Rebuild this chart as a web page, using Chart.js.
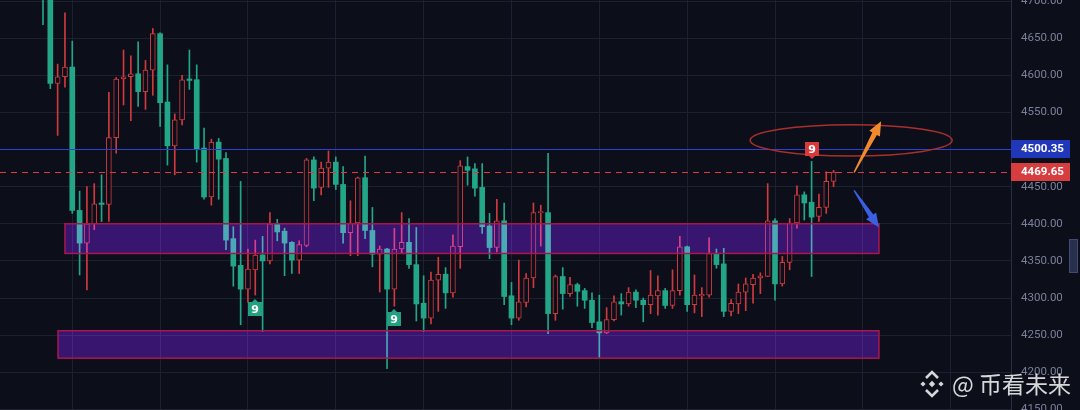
<!DOCTYPE html>
<html>
<head>
<meta charset="utf-8">
<script src="https://cdn.jsdelivr.net/npm/chart.js@4.4.1/dist/chart.umd.min.js"></script>
<style>
  html, body { margin: 0; padding: 0; background: #0c0e1a; }
  #box { width: 1080px; height: 410px; position: relative; }
</style>
</head>
<body>
<div id="box"><canvas id="grafico"></canvas></div>
<script>
// candles (index 0..108)
var opens = [4760,4712,4589,4598,4611,4418,4374,4400,4428,4426,4516,4595,4598,4602,4578,4607,4656,4564,4505,4540,
  4595,4594,4502,4436,4510,4488,4380,4344,4312,4338,4358,4350,4400,4390,4375,4351,4371,4486,4449,4475,
  4483,4453,4388,4401,4462,4391,4359,4366,4312,4366,4375,4345,4293,4273,4324,4332,4307,4369,4477,4474,
  4449,4397,4368,4404,4303,4273,4294,4327,4415,4415,4279,4329,4306,4318,4310,4297,4268,4253,4271,4295,
  4292,4308,4297,4291,4303,4310,4290,4310,4369,4291,4303,4304,4360,4346,4282,4292,4308,4318,4327,4329,
  4404,4319,4348,4401,4439,4429,4410,4422,4457];
var closes = [4720,4589,4598,4611,4418,4374,4400,4427,4426,4516,4595,4598,4602,4578,4607,4656,4563,4505,4540,4594,
  4593,4501,4436,4510,4487,4378,4343,4312,4339,4358,4350,4400,4389,4374,4351,4372,4486,4448,4475,4483,
  4453,4388,4401,4462,4391,4359,4366,4312,4366,4375,4345,4292,4273,4324,4332,4307,4370,4478,4472,4448,
  4396,4368,4404,4302,4273,4295,4327,4415,4416,4279,4329,4306,4318,4309,4297,4267,4253,4271,4295,4292,
  4308,4297,4291,4304,4310,4290,4310,4369,4291,4304,4305,4360,4345,4282,4293,4308,4319,4327,4330,4404,
  4319,4348,4401,4439,4428,4409,4422,4457,4469.65];
var highs = [4780,4720,4615,4684,4646,4444,4450,4454,4466,4577,4597,4634,4626,4645,4620,4663,4657,4614,4548,4600,
  4634,4614,4529,4514,4515,4496,4396,4457,4366,4378,4383,4415,4406,4394,4376,4377,4488,4490,4483,4498,
  4490,4477,4431,4463,4491,4422,4370,4367,4394,4415,4407,4395,4330,4335,4355,4341,4385,4485,4490,4481,
  4481,4414,4433,4428,4321,4351,4333,4428,4425,4495,4331,4341,4328,4320,4313,4307,4304,4287,4303,4306,
  4314,4311,4300,4337,4330,4313,4338,4383,4370,4331,4314,4381,4366,4367,4298,4319,4327,4332,4334,4454,
  4407,4356,4407,4451,4443,4484,4440,4470,4472];
var lows = [4668,4582,4519,4584,4414,4331,4311,4392,4403,4403,4495,4560,4539,4558,4554,4573,4531,4479,4466,4533,
  4581,4483,4433,4425,4433,4365,4316,4264,4294,4304,4255,4346,4377,4330,4333,4333,4369,4431,4439,4449,
  4446,4374,4357,4357,4380,4342,4308,4205,4289,4360,4340,4269,4255,4265,4282,4286,4301,4340,4452,4437,
  4387,4353,4362,4291,4264,4270,4288,4314,4370,4252,4270,4285,4302,4289,4286,4260,4220,4252,4269,4277,
  4289,4287,4268,4279,4277,4286,4286,4304,4282,4280,4275,4301,4340,4275,4276,4279,4283,4293,4306,4329,
  4297,4316,4338,4394,4405,4329,4403,4414,4450];

var priceTicks = [4150, 4200, 4250, 4300, 4350, 4400, 4450, 4500, 4550, 4600, 4650, 4700];
var timeTicks = [4, 16, 28, 40, 52, 64, 76, 88, 100, 112, 124];

var blueLevel = 4500.35;
var lastPrice = 4469.65;

// support zones: [from index, to index, low price, high price]
var zones = [[3.0, 114.2, 4360, 4400], [2.05, 114.2, 4219, 4256]];
// "9" markers: [index, price, kind]
var marks = [[29, 4285, 'up'], [48, 4272, 'up'], [105, 4501, 'down']];
// ellipse: [center index, center price, half width in index, half height in price]
var ring = [110.4, 4512.4, 13.8, 21.1];
// arrows: [from index, from price, to index, to price]
var arrowUp = [110.8, 4469, 114.5, 4538];
var arrowDown = [110.8, 4445, 114.2, 4395];

var GREEN = '#22a687';
var RED = '#cf3b3d';
var BG = '#0c0e1a';

var bodies = [];
var wicks = [];
var bodyFill = [];
var bodyLine = [];
var bodyWidth = [];
var wickColor = [];
for (var i = 0; i < opens.length; i++) {
  var up = closes[i] >= opens[i];
  bodies.push({ x: i, y: [opens[i], closes[i]] });
  wicks.push({ x: i, y: [lows[i], highs[i]] });
  bodyFill.push(up ? BG : GREEN);
  bodyLine.push(up ? RED : GREEN);
  bodyWidth.push(up ? 1 : 0);
  wickColor.push(up ? RED : GREEN);
}

function drawArrow(ctx, x0, y0, x1, y1, color) {
  var dx = x1 - x0, dy = y1 - y0, len = Math.sqrt(dx * dx + dy * dy);
  var ux = dx / len, uy = dy / len, nx = -uy, ny = ux;
  var head = 14, hw = 6, w0 = 0.7, w1 = 2.6;
  var bx = x1 - ux * head, by = y1 - uy * head;
  ctx.fillStyle = color;
  ctx.beginPath();
  ctx.moveTo(x0 + nx * w0, y0 + ny * w0);
  ctx.lineTo(bx + nx * w1, by + ny * w1);
  ctx.lineTo(bx + nx * hw, by + ny * hw);
  ctx.lineTo(x1, y1);
  ctx.lineTo(bx - nx * hw, by - ny * hw);
  ctx.lineTo(bx - nx * w1, by - ny * w1);
  ctx.lineTo(x0 - nx * w0, y0 - ny * w0);
  ctx.closePath();
  ctx.fill();
}

function diamond(ctx, cx, cy, r) {
  ctx.beginPath();
  ctx.moveTo(cx, cy - r);
  ctx.lineTo(cx + r, cy);
  ctx.lineTo(cx, cy + r);
  ctx.lineTo(cx - r, cy);
  ctx.closePath();
  ctx.fill();
}

var drawings = {
  id: 'drawings',
  beforeDraw: function (chart) {
    // solid background so the zone blending has something under it
    var ctx = chart.ctx;
    ctx.save();
    ctx.fillStyle = BG;
    ctx.fillRect(0, 0, chart.width, chart.height);
    ctx.restore();
  },
  afterDatasetsDraw: function (chart) {
    var ctx = chart.ctx, sx = chart.scales.x, sy = chart.scales.y, a = chart.chartArea;
    ctx.save();
    ctx.beginPath();
    ctx.rect(a.left, a.top, a.right - a.left, a.bottom - a.top);
    ctx.clip();

    // zones
    zones.forEach(function (z) {
      var x1 = sx.getPixelForValue(z[0]), x2 = sx.getPixelForValue(z[1]);
      var y1 = sy.getPixelForValue(z[3]), y2 = sy.getPixelForValue(z[2]);
      ctx.globalCompositeOperation = 'screen';
      ctx.fillStyle = 'rgb(46, 8, 96)';
      ctx.fillRect(x1, y1, x2 - x1, y2 - y1);
      ctx.globalCompositeOperation = 'source-over';
      ctx.strokeStyle = '#a8174e';
      ctx.lineWidth = 1.5;
      ctx.strokeRect(x1, y1, x2 - x1, y2 - y1);
    });

    // price lines
    var yb = Math.round(sy.getPixelForValue(blueLevel)) + 0.5;
    ctx.strokeStyle = '#2c40d2';
    ctx.lineWidth = 1;
    ctx.beginPath(); ctx.moveTo(a.left, yb); ctx.lineTo(a.right, yb); ctx.stroke();
    var yr = Math.round(sy.getPixelForValue(lastPrice)) + 0.5;
    ctx.strokeStyle = '#e0393b';
    ctx.setLineDash([6, 5]);
    ctx.beginPath(); ctx.moveTo(a.left, yr); ctx.lineTo(a.right, yr); ctx.stroke();
    ctx.setLineDash([]);

    // ellipse
    var cx = sx.getPixelForValue(ring[0]), cy = sy.getPixelForValue(ring[1]);
    var rx = sx.getPixelForValue(ring[0] + ring[2]) - cx;
    var ry = cy - sy.getPixelForValue(ring[1] + ring[3]);
    ctx.strokeStyle = '#a8302c';
    ctx.lineWidth = 1.5;
    ctx.beginPath(); ctx.ellipse(cx, cy, rx, ry, 0, 0, Math.PI * 2); ctx.stroke();

    // arrows
    drawArrow(ctx, sx.getPixelForValue(arrowUp[0]), sy.getPixelForValue(arrowUp[1]),
      sx.getPixelForValue(arrowUp[2]), sy.getPixelForValue(arrowUp[3]), '#f08a2e');
    drawArrow(ctx, sx.getPixelForValue(arrowDown[0]), sy.getPixelForValue(arrowDown[1]),
      sx.getPixelForValue(arrowDown[2]), sy.getPixelForValue(arrowDown[3]), '#3b5fe2');

    // "9" markers
    marks.forEach(function (m) {
      var mx = Math.round(sx.getPixelForValue(m[0])), my = Math.round(sy.getPixelForValue(m[1]));
      var col = m[2] == 'up' ? '#23a07f' : '#d63a3c';
      ctx.fillStyle = col;
      ctx.fillRect(mx - 7, my - 7, 14, 14);
      ctx.beginPath();
      if (m[2] == 'up') {
        ctx.moveTo(mx - 3, my - 7); ctx.lineTo(mx, my - 10); ctx.lineTo(mx + 3, my - 7);
      } else {
        ctx.moveTo(mx - 3, my + 7); ctx.lineTo(mx, my + 10); ctx.lineTo(mx + 3, my + 7);
      }
      ctx.fill();
      ctx.fillStyle = '#ffffff';
      ctx.font = 'bold 11px "DejaVu Sans"';
      ctx.textAlign = 'center';
      ctx.textBaseline = 'middle';
      ctx.fillText('9', mx, my + 1);
    });
    ctx.restore();
  },
  afterDraw: function (chart) {
    var ctx = chart.ctx, sy = chart.scales.y, a = chart.chartArea;
    ctx.save();
    // price labels on the axis
    var boxes = [[blueLevel, '#1f37b8'], [lastPrice, '#d63d3f']];
    boxes.forEach(function (b) {
      var yy = sy.getPixelForValue(b[0]);
      ctx.fillStyle = b[1];
      ctx.fillRect(a.right, Math.round(yy) - 9, 59, 18);
      ctx.fillStyle = '#ffffff';
      ctx.font = 'bold 11.5px Roboto';
      ctx.textAlign = 'left';
      ctx.textBaseline = 'middle';
      ctx.fillText(b[0].toFixed(2), a.right + 10, Math.round(yy));
    });

    // small handle on the right edge
    ctx.fillStyle = '#27304c';
    ctx.fillRect(1069, 239, 9, 34);
    ctx.strokeStyle = '#3f4a72';
    ctx.strokeRect(1069.5, 239.5, 8, 33);

    // watermark
    ctx.fillStyle = 'rgba(232, 232, 232, 0.92)';
    diamond(ctx, 932, 384, 3.2);
    diamond(ctx, 923, 384, 2.6);
    diamond(ctx, 941, 384, 2.6);
    ctx.strokeStyle = 'rgba(232, 232, 232, 0.92)';
    ctx.lineWidth = 2.6;
    ctx.beginPath(); ctx.moveTo(926, 378); ctx.lineTo(932, 372); ctx.lineTo(938, 378); ctx.stroke();
    ctx.beginPath(); ctx.moveTo(926, 390); ctx.lineTo(932, 396); ctx.lineTo(938, 390); ctx.stroke();
    ctx.font = '23px "Noto Sans CJK SC"';
    ctx.textAlign = 'left';
    ctx.textBaseline = 'middle';
    ctx.fillText('@ 币看未来', 952, 384);
    ctx.restore();
  }
};

new Chart(document.getElementById('grafico'), {
  type: 'bar',
  data: {
    datasets: [
      {
        label: 'corpo',
        data: bodies,
        backgroundColor: bodyFill,
        borderColor: bodyLine,
        borderWidth: bodyWidth,
        borderSkipped: false,
        barThickness: 5,
        minBarLength: 1,
        grouped: false
      },
      {
        label: 'pavio',
        data: wicks,
        backgroundColor: wickColor,
        borderWidth: 0,
        barThickness: 1,
        grouped: false
      }
    ]
  },
  options: {
    responsive: true,
    maintainAspectRatio: false,
    animation: false,
    devicePixelRatio: 1,
    layout: { padding: 0 },
    plugins: { legend: { display: false }, tooltip: { enabled: false } },
    scales: {
      x: {
        type: 'linear',
        min: -5.874,
        max: 132.24,
        offset: false,
        afterBuildTicks: function (s) { s.ticks = timeTicks.map(function (v) { return { value: v }; }); },
        afterFit: function (s) { s.paddingLeft = 0; s.paddingRight = 0; },
        grid: { color: '#1c2031', drawTicks: false, offset: false },
        border: { display: false },
        ticks: { display: false }
      },
      y: {
        position: 'right',
        min: 4149.2,
        max: 4701.35,
        afterFit: function (s) { s.width = 69; s.paddingTop = 0; s.paddingBottom = 0; },
        afterBuildTicks: function (s) { s.ticks = priceTicks.map(function (v) { return { value: v }; }); },
        grid: { color: '#1c2031', drawTicks: false },
        border: { display: true, color: '#2a2f44' },
        ticks: {
          color: '#7b8099',
          padding: 10,
          font: { family: 'Roboto', size: 11.5 },
          callback: function (v) { return Number(v).toFixed(2); }
        }
      }
    }
  },
  plugins: [drawings]
});
</script>
</body>
</html>
